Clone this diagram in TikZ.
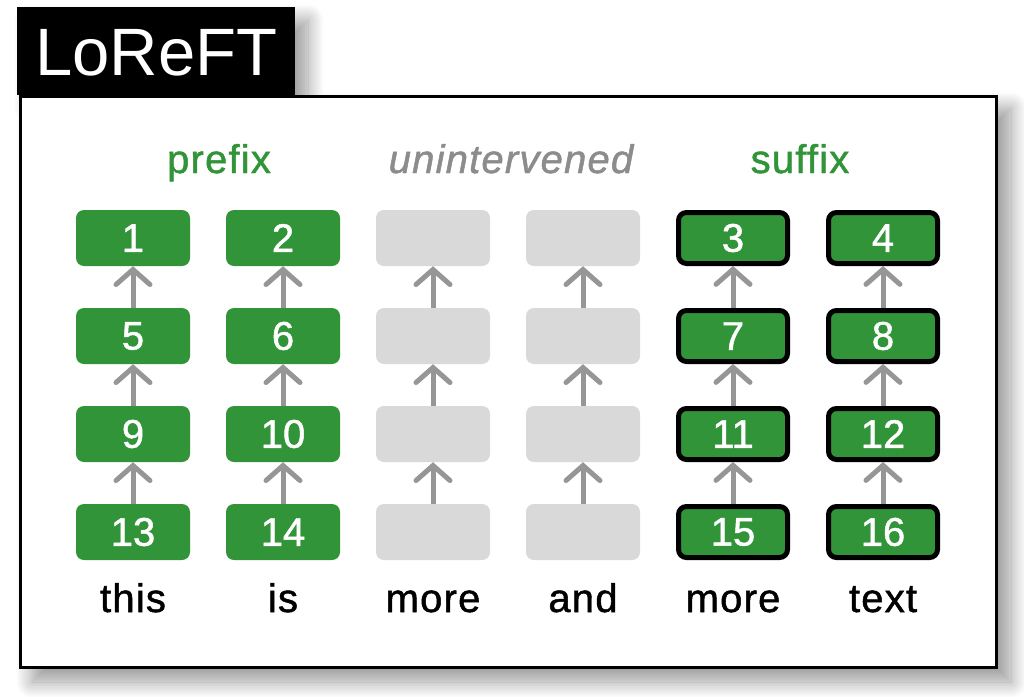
\documentclass[tikz,border=0pt]{standalone}
\usepackage{fontspec}
\setmainfont{Liberation Sans}
\newfontfamily\medfont{Liberation Sans}[FakeBold=1.2, LetterSpace=3]
\newfontfamily\medifont{Liberation Sans Italic}[FakeBold=1.2, LetterSpace=3]
\newfontfamily\numfont{Liberation Sans}[FakeBold=1.2]
\usetikzlibrary{arrows.meta,shadows.blur}
\definecolor{grn}{RGB}{50,148,56}
\definecolor{ugray}{RGB}{217,217,217}
\definecolor{agray}{RGB}{150,150,150}
\definecolor{tgray}{RGB}{140,140,140}
\tikzset{
 tok/.style={rounded corners=8pt, minimum width=114pt, minimum height=56pt, inner sep=0pt, text=white, font=\fontsize{40}{40}\numfont},
 gbox/.style={tok, fill=grn},
 bbox/.style={tok, fill=grn, draw=black, line width=5pt, minimum width=109pt, minimum height=51pt},
 ubox/.style={tok, fill=ugray},
 arr/.style={draw=agray, line width=5pt, -{Straight Barb[length=15pt, width=34pt, line cap=round]}},
 word/.style={font=\fontsize{40}{40}\medfont, anchor=base},
 head/.style={font=\fontsize{40}{40}\medfont, anchor=base},
}
\begin{document}
\begin{tikzpicture}[x=1pt,y=-1pt]
\useasboundingbox (0,0) rectangle (1024,696);
% shadow of frame + title
\path[blur shadow={shadow xshift=13pt, shadow yshift=-13pt, shadow blur radius=16pt, shadow opacity=40, shadow blur steps=20}]
  (17,7) -- (295,7) -- (295,95) -- (998,95) -- (998,669) -- (19,669) -- (19,95) -- (17,95) -- cycle;
% main frame
\node[draw=black, fill=white, line width=3pt, minimum width=976pt, minimum height=571pt, inner sep=0pt] (frame) at (508.5,382) {};
% title
\node[fill=black, minimum width=278pt, minimum height=88pt, inner sep=0pt] (titlebox) at (156,51) {};
\node[text=white, font=\fontsize{67}{67}\selectfont, anchor=base west, inner sep=0pt] (title) at (35,75) {LoReFT};
% headers
\node[head, text=grn] (hpre) at (219,173) {prefix};
\node[head, text=tgray, font=\fontsize{40}{40}\medifont] (hun) at (511,173) {unintervened};
\node[head, text=grn] (hsuf) at (800,173) {suffix};
% columns
\foreach \r/\y in {1/238,2/336,3/434,4/532}{
  \pgfmathtruncatemacro{\na}{4*(\r-1)+1}
  \pgfmathtruncatemacro{\nb}{4*(\r-1)+2}
  \pgfmathtruncatemacro{\nc}{4*(\r-1)+3}
  \pgfmathtruncatemacro{\nd}{4*(\r-1)+4}
  \node[gbox] (n-1-\r) at (133,\y) {\na};
  \node[gbox] (n-2-\r) at (283,\y) {\nb};
  \node[ubox] (n-3-\r) at (433,\y) {};
  \node[ubox] (n-4-\r) at (583,\y) {};
  \node[bbox] (n-5-\r) at (733,\y) {\nc};
  \node[bbox] (n-6-\r) at (883,\y) {\nd};
}
\foreach \c in {1,...,6}{
  \foreach \r/\s in {2/1,3/2,4/3}{
    \draw[arr] (n-\c-\r.north) -- (n-\c-\s.south);
  }
}
% words
\node[word] (w1) at (133,612) {this};
\node[word] (w2) at (283,612) {is};
\node[word] (w3) at (433,612) {more};
\node[word] (w4) at (583,612) {and};
\node[word] (w5) at (733,612) {more};
\node[word] (w6) at (883,612) {text};
\end{tikzpicture}
\end{document}
